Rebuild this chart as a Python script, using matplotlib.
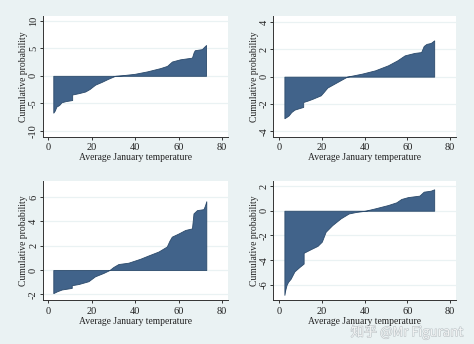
import matplotlib
matplotlib.use("Agg")
import matplotlib.pyplot as plt
import matplotlib.patheffects as pe

# === Data: cumulative probability vs. average January temperature ===
temp_a = [2.3, 3.0, 3.7, 5.0, 6.1, 8.0, 11.0, 11.0, 14.0, 17.0, 19.0, 21.6, 24.6, 27.5,
          30.8, 35.0, 39.8, 45.5, 51.6, 54.7, 57.0, 60.8, 66.2, 67.0, 67.5, 70.8, 71.9, 72.7]
cum_a = [-6.7, -6.3, -5.6, -5.3, -4.8, -4.6, -4.4, -3.4, -3.15, -2.85, -2.4, -1.6, -1.1, -0.55,
         0.0, 0.15, 0.36, 0.8, 1.4, 1.8, 2.6, 3.0, 3.3, 4.3, 4.65, 4.85, 5.3, 5.6]

temp_b = [2.5, 3.5, 4.5, 5.7, 7.2, 9.0, 11.3, 11.3, 13.5, 15.7, 19.5, 21.0, 22.6, 26.5,
          31.8, 35.0, 38.8, 44.9, 51.0, 55.4, 58.8, 63.4, 66.5, 67.7, 69.0, 71.0, 72.6]
cum_b = [-3.05, -2.95, -2.84, -2.6, -2.42, -2.33, -2.22, -1.86, -1.75, -1.62, -1.37, -1.1, -0.8, -0.46,
         0.0, 0.1, 0.22, 0.46, 0.83, 1.2, 1.56, 1.74, 1.8, 2.25, 2.4, 2.47, 2.66]

temp_c = [2.3, 4.0, 6.2, 8.0, 10.8, 10.8, 14.0, 18.5, 21.5, 25.4, 28.2, 30.0, 32.3, 36.9,
          42.3, 46.2, 50.8, 54.6, 55.8, 56.9, 60.0, 63.1, 66.2, 66.9, 68.5, 71.5, 72.2, 72.8]
cum_c = [-1.9, -1.75, -1.6, -1.55, -1.47, -1.25, -1.15, -0.92, -0.52, -0.24, 0.0, 0.25, 0.49, 0.6,
         0.92, 1.2, 1.52, 1.93, 2.4, 2.74, 3.0, 3.29, 3.42, 4.65, 4.92, 5.0, 5.3, 5.65]

temp_d = [2.5, 2.9, 3.5, 4.2, 5.4, 7.2, 9.5, 11.5, 11.5, 14.9, 18.0, 20.0, 21.8, 24.9,
          28.8, 32.6, 36.0, 40.3, 44.9, 51.0, 54.9, 57.2, 60.3, 65.7, 67.7, 71.0, 72.6]
cum_d = [-6.8, -6.4, -6.0, -5.75, -5.5, -4.9, -4.55, -4.27, -3.4, -3.1, -2.84, -2.5, -1.7, -1.16,
         -0.62, -0.22, -0.1, 0.0, 0.19, 0.46, 0.68, 0.95, 1.1, 1.22, 1.54, 1.62, 1.73]

xticks = [0, 20, 40, 60, 80]
yticks_a = [-10, -5, 0, 5, 10]
yticks_b = [-4, -2, 0, 2, 4]
yticks_c = [-2, 0, 2, 4, 6]
yticks_d = [-6, -4, -2, 0, 2]

# === Style ===
BG = "#eaf2f3"
FILL = "#41638a"
EDGE = "#2b4a6b"
AXIS = "#333333"
TXT = "#222222"
plt.rcParams["font.family"] = ["Liberation Serif", "DejaVu Serif"]

fig = plt.figure(figsize=(4.74, 3.44), dpi=100)
fig.patch.set_facecolor(BG)

# axes boxes in figure fractions: [left, bottom, width, height]
boxes = [
    [0.090, 0.602, 0.391, 0.352],
    [0.577, 0.602, 0.385, 0.352],
    [0.090, 0.127, 0.391, 0.346],
    [0.577, 0.127, 0.385, 0.346],
]
panels = [
    (temp_a, cum_a, yticks_a, (-11.1, 10.9)),
    (temp_b, cum_b, yticks_b, (-4.42, 4.46)),
    (temp_c, cum_c, yticks_c, (-2.49, 7.29)),
    (temp_d, cum_d, yticks_d, (-7.24, 2.38)),
]

for box, (tx, cy, yt, ylim) in zip(boxes, panels):
    ax = fig.add_axes(box)
    ax.set_facecolor("white")
    for yv in yt:
        ax.axhline(yv, color=BG, lw=0.9, zorder=0)
    ax.fill_between(tx, 0, cy, color=FILL, edgecolor=EDGE, lw=0.6, zorder=2)
    ax.set_xlim(-2.6, 82.8)
    ax.set_ylim(*ylim)
    ax.set_xticks(xticks)
    ax.set_yticks(yt)
    ax.set_yticklabels([str(v) for v in yt], rotation=90, va="center")
    ax.tick_params(labelsize=7.5, length=2.5, width=0.7, color=AXIS, labelcolor=TXT)
    ax.tick_params(axis="x", pad=2.2)
    ax.tick_params(axis="y", pad=0.8)
    for side in ["top", "right"]:
        ax.spines[side].set_visible(False)
    for side in ["left", "bottom"]:
        ax.spines[side].set_color(AXIS)
        ax.spines[side].set_linewidth(0.7)
    ax.set_xlabel("Average January temperature", fontsize=6.9, labelpad=0.5, color=TXT)
    ax.set_ylabel("Cumulative probability", fontsize=6.9, labelpad=1, color=TXT)

# site watermark in the lower right corner, just below the last axis title
fig.text(0.978, 0.034, "知乎 @Mr Figurant", ha="right", va="center", fontsize=9.5,
         color="white", alpha=0.8, family=["Noto Sans CJK SC", "DejaVu Sans"],
         path_effects=[pe.withStroke(linewidth=0.8, foreground="#aeb6ba")])

fig.savefig("out.png", dpi=100, facecolor=BG)
